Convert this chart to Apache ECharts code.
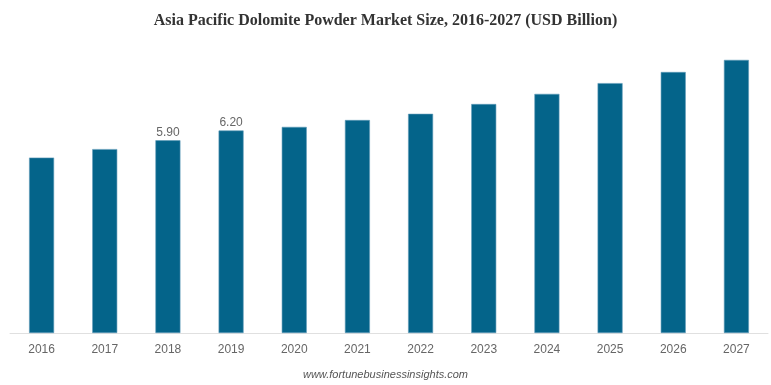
<!DOCTYPE html>
<html>
<head>
<meta charset="utf-8">
<script src="https://cdn.jsdelivr.net/npm/echarts@6/dist/echarts.min.js"></script>
<style>html,body{margin:0;padding:0;background:#fff}#c{width:771px;height:385px}</style>
</head>
<body>
<div id="c"></div>
<script>
const categories = ['2016','2017','2018','2019','2020','2021','2022','2023','2024','2025','2026','2027'];
const values = [5.37, 5.63, 5.90, 6.20, 6.31, 6.52, 6.71, 7.01, 7.32, 7.65, 7.99, 8.36];
const labeledYears = ['2018', '2019'];

const chart = echarts.init(document.getElementById('c'), null, {renderer: 'canvas'});
chart.setOption({
  animation: false,
  title: [{
    text: 'Asia Pacific Dolomite Powder Market Size, 2016-2027 (USD Billion)',
    left: 'center', top: 8,
    textStyle: {fontFamily: 'Liberation Serif', fontWeight: 'bold', fontSize: 16, color: '#333'}
  }, {
    text: 'www.fortunebusinessinsights.com',
    left: 'center', top: 364,
    textStyle: {fontFamily: 'Liberation Sans', fontStyle: 'italic', fontWeight: 'normal', fontSize: 11, color: '#555'}
  }],
  grid: {left: 10, right: 3, top: 39, bottom: 52},
  xAxis: {
    type: 'category', data: categories,
    axisLine: {lineStyle: {color: '#e0e0e0', width: 1}},
    axisTick: {show: false},
    axisLabel: {color: '#666', fontSize: 12, fontFamily: 'Liberation Sans', margin: 11}
  },
  yAxis: {type: 'value', min: 0, max: 9, show: false, splitLine: {show: false}},
  series: [{
    type: 'bar',
    barWidth: 25,
    data: values.map((v, i) => ({
      value: v,
      label: {show: labeledYears.includes(categories[i])}
    })),
    itemStyle: {color: '#04648a', borderColor: '#5f9bb8', borderWidth: 0.6},
    label: {position: 'top', distance: 2, color: '#666', fontSize: 12, fontFamily: 'Liberation Sans',
      formatter: p => p.value.toFixed(2)}
  }]
});
</script>
</body>
</html>
